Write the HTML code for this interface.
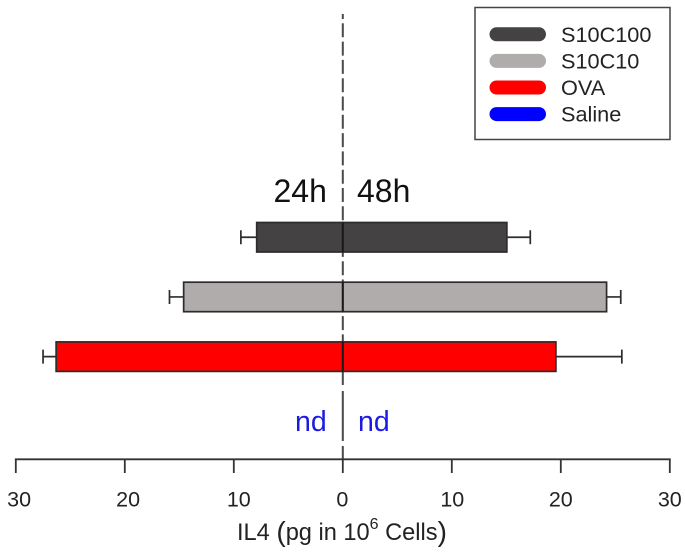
<!DOCTYPE html>
<html lang="en">
<head>
<meta charset="utf-8">
<title>IL4 by treatment at 24h and 48h</title>
<style>
html,body{margin:0;padding:0;background:#fff;width:685px;height:553px;overflow:hidden}
svg{display:block;font-family:"Liberation Sans",sans-serif;filter:blur(.35px)}
</style>
</head>
<body>
<svg id="chart" width="685" height="553" viewBox="0 0 685 553" xmlns="http://www.w3.org/2000/svg">
  <rect width="685" height="553" fill="#fff"/>
  <line x1="342.8" y1="14" x2="342.8" y2="460" stroke="#4a4a4a" stroke-width="2" stroke-dasharray="5 4.3 14 4.3 14 4.3 14 4.3 14 4.3 14 4.3 14 4.3 14 4.3 14 4.3 14 4.3 14 4.3 14 4.3 14 4.3 14 4.3 14 4.3 14 4.3 14 4.3 14 4.3 14 4.3 14 4.3 14 6 50 5 14 4"/>
  <g id="bars"></g>
  <text x="273.5" y="202" font-size="32" fill="#111">24h</text>
  <text x="357" y="202" font-size="32" fill="#111">48h</text>
  <text x="295" y="431" font-size="28.5" fill="#1c1ce0">nd</text>
  <text x="358" y="431" font-size="28.5" fill="#1c1ce0">nd</text>
  <g id="axis"></g>
  <text x="237" y="540" font-size="23.6" fill="#222">IL4 <tspan font-size="28" dy="1">(</tspan><tspan dy="-1">pg in 10</tspan><tspan font-size="16" dy="-11">6</tspan><tspan dy="11"> Cells</tspan><tspan font-size="28" dy="1">)</tspan></text>
  <g>
    <rect x="475" y="7.5" width="195" height="132" fill="#fff" stroke="#444" stroke-width="1.5"/>
    <g id="legend-items"></g>
  </g>
</svg>
<script>
const categories = ['S10C100', 'S10C10', 'OVA'];
const values24h = [7.9, 14.6, 26.3];
const values48h = [15.05, 24.2, 19.55];
const errorEnd24h = [9.35, 15.9, 27.5];
const errorEnd48h = [17.2, 25.5, 25.6];
const barColors = ['#454243', '#b0acac', '#ff0000'];
const tickLabels = [30, 20, 10, 0, 10, 20, 30];
const tickValues = [-30, -20, -10, 0, 10, 20, 30];
const legendLabels = ['S10C100', 'S10C10', 'OVA', 'Saline'];
const legendColors = ['#454243', '#b0acac', '#ff0000', '#0000ff'];

const NS = 'http://www.w3.org/2000/svg';
const AXIS_CENTER = 342.8, UNIT = 10.9, AXIS_Y = 459.3;
function xPos(v) { return AXIS_CENTER + v * UNIT; }
function xLeft(v) { return xPos(-v); }
function xRight(v) { return xPos(v); }
function yBand(i) { return 222.5 + i * 59.7; }
function labelNudge(v) {
  if (v === 0) return -0.5;
  if (v === -10) return 5;
  if (v < 0) return 3.3;
  return v === 10 ? 0.5 : 0;
}
const BAR_H = 29.5;

function make(tag, attrs, parent) {
  const el = document.createElementNS(NS, tag);
  for (const k in attrs) el.setAttribute(k, attrs[k]);
  parent.appendChild(el);
  return el;
}

const barsG = document.getElementById('bars');
categories.forEach(function (cat, i) {
  const slug = cat.toLowerCase();
  const top = yBand(i), mid = top + BAR_H / 2;
  const stroke = { stroke: '#2c2c2c', 'stroke-width': 1.7 };
  const errL = make('path', Object.assign({ d: 'M' + xLeft(values24h[i]) + ' ' + mid + 'H' + xLeft(errorEnd24h[i]) + 'M' + xLeft(errorEnd24h[i]) + ' ' + (mid - 7) + 'V' + (mid + 7), fill: 'none' }, stroke), barsG);
  
  
  const errR = make('path', Object.assign({ d: 'M' + xRight(values48h[i]) + ' ' + mid + 'H' + xRight(errorEnd48h[i]) + 'M' + xRight(errorEnd48h[i]) + ' ' + (mid - 7) + 'V' + (mid + 7), fill: 'none' }, stroke), barsG);
  
  
  const barL = make('rect', Object.assign({ x: xLeft(values24h[i]), y: top, width: AXIS_CENTER - xLeft(values24h[i]), height: BAR_H, fill: barColors[i] }, stroke), barsG);
  
  
  const barR = make('rect', Object.assign({ x: AXIS_CENTER, y: top, width: xRight(values48h[i]) - AXIS_CENTER, height: BAR_H, fill: barColors[i] }, stroke), barsG);
  
  
  const divider = make('line', { x1: AXIS_CENTER, x2: AXIS_CENTER, y1: top, y2: top + BAR_H, stroke: '#1a1a1a', 'stroke-width': 2 }, barsG);
  
  
});

const axisG = document.getElementById('axis');
const axisLine = make('line', { x1: xPos(tickValues[0]), x2: xPos(tickValues[tickValues.length - 1]), y1: AXIS_Y, y2: AXIS_Y, stroke: '#333', 'stroke-width': 1.8, 'stroke-linecap': 'square' }, axisG);


tickValues.forEach(function (v, i) {
  const tick = make('line', { x1: xPos(v), x2: xPos(v), y1: AXIS_Y, y2: 473, stroke: '#333', 'stroke-width': 1.8 }, axisG);
  
  
  const label = make('text', { x: xPos(v) + labelNudge(v), y: 506.7, 'font-size': 21.5, 'text-anchor': 'middle', fill: '#222' }, axisG);
  
  
  label.textContent = tickLabels[i];
});

const legendG = document.getElementById('legend-items');
legendLabels.forEach(function (name, i) {
  const cy = 34.3 + i * 26.6;
  const pill = make('rect', { x: 489.5, y: cy - 7, width: 56.5, height: 14, rx: 7, ry: 7, fill: legendColors[i] }, legendG);
  
  
  const txt = make('text', { x: 561, y: cy + 7.5, 'font-size': 21.7, fill: '#222' }, legendG);
  
  
  txt.textContent = name;
});
</script>
</body>
</html>
